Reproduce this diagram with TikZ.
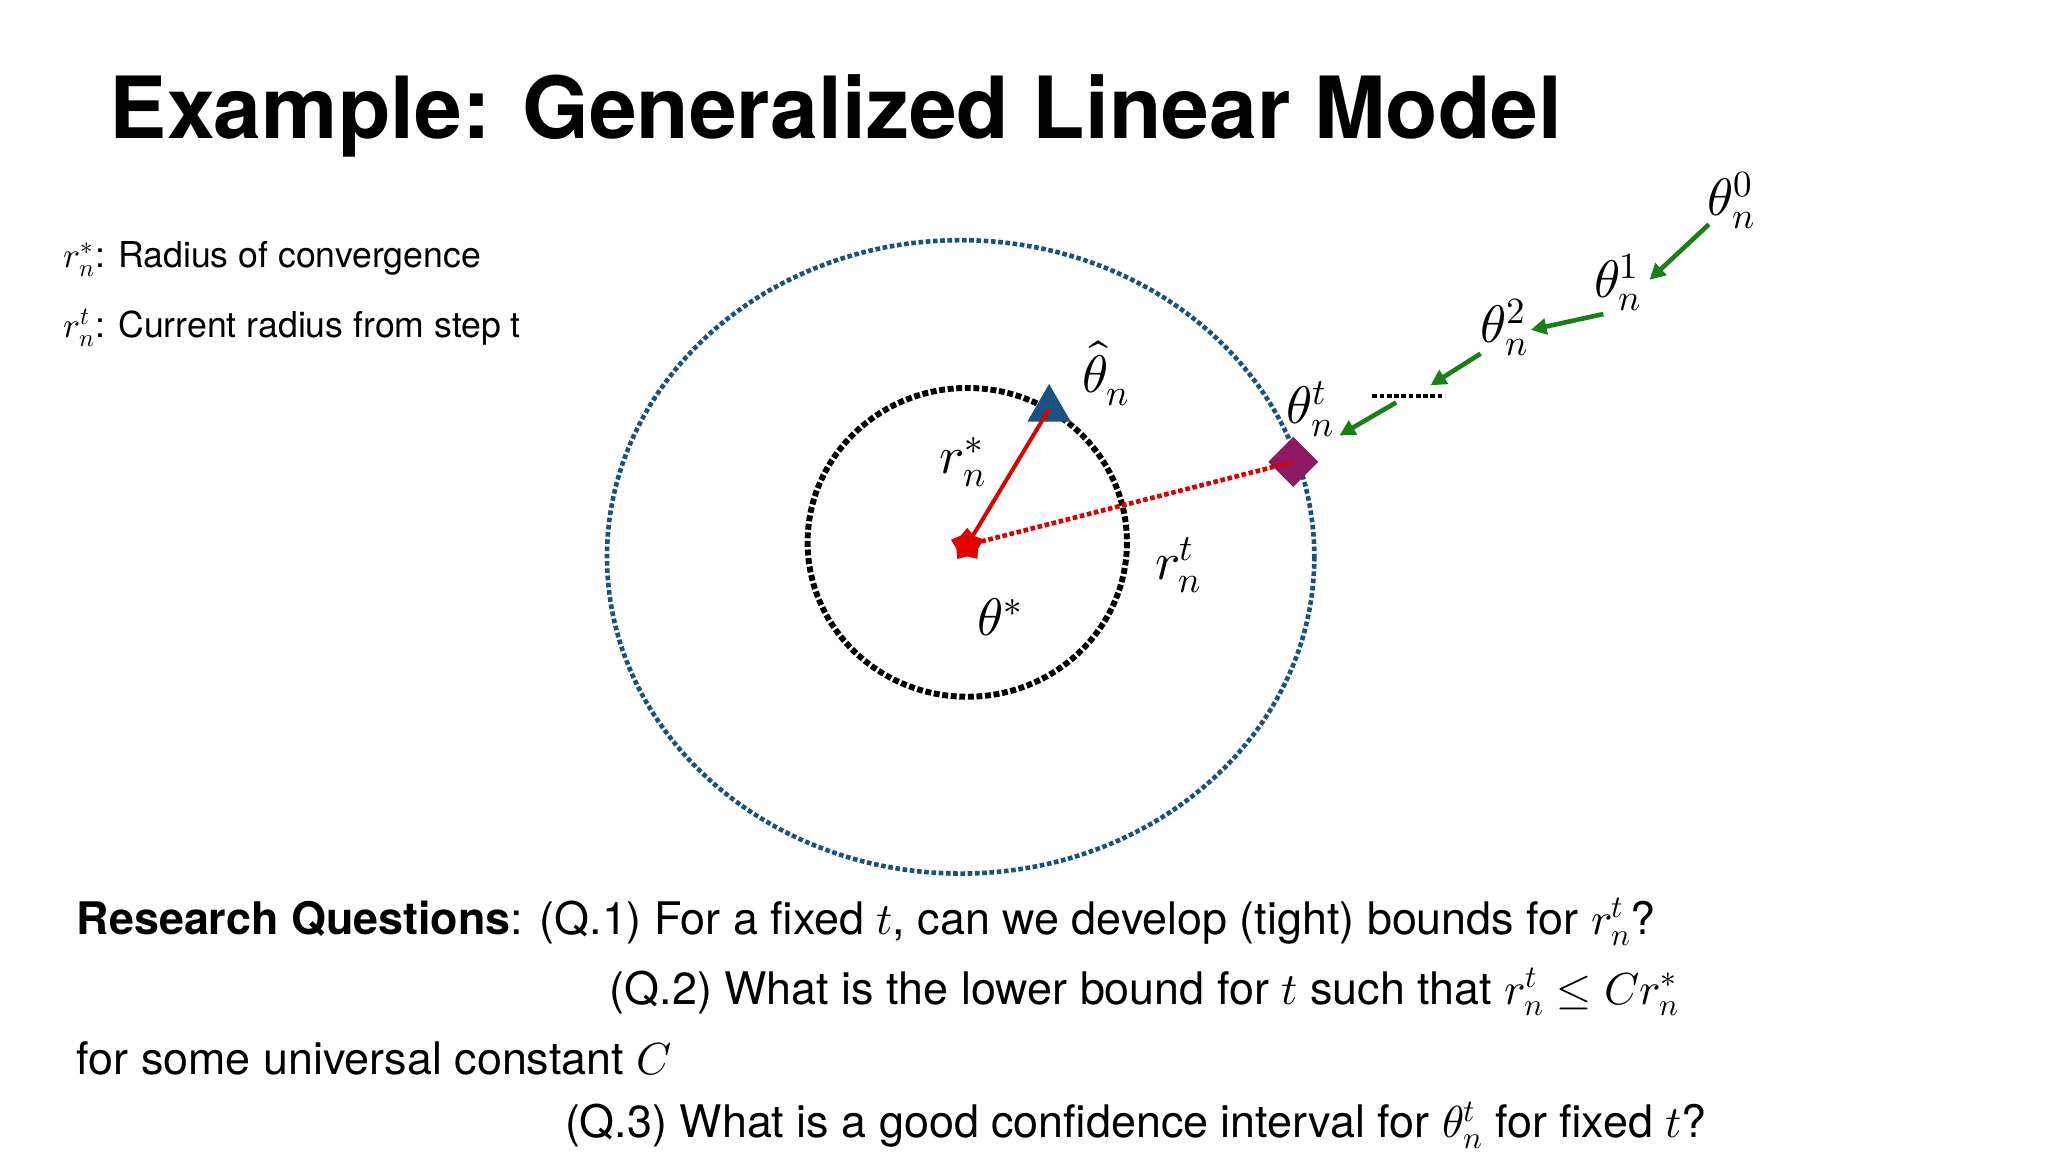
\documentclass[tikz,border=0pt]{standalone}
\usepackage{fontspec}
\usepackage{unicode-math}
\setmainfont{TeX Gyre Heros}
\setmathfont{Latin Modern Math}
\usetikzlibrary{shapes.geometric,arrows.meta}
\definecolor{dblue}{rgb}{0.1,0.32,0.5}
\definecolor{dgreen}{rgb}{0.1,0.5,0.1}
\definecolor{purp}{rgb}{0.55,0.1,0.38}
\begin{document}
\begin{tikzpicture}[x=1pt,y=-1pt,
  lbl/.style={font=\fontsize{40}{42}\selectfont},
  body/.style={font=\fontsize{34}{36}\selectfont,anchor=base west,inner sep=0},
  leg/.style={font=\fontsize{27}{30}\selectfont,anchor=base west,inner sep=0},
  garr/.style={draw=dgreen,line width=3.5pt,-{Triangle[length=12pt,width=12pt]}}]
\useasboundingbox (0,0) rectangle (1552,873);
\node[anchor=base west,inner sep=0,font=\fontsize{65}{70}\selectfont\bfseries] (title) at (83,105) {Example: Generalized Linear Model};
\node[leg] (l1) at (48,203) {$r_n^*$: Radius of convergence};
\node[leg] (l2) at (48,256) {$r_n^t$: Current radius from step t};
\draw[dblue,line width=3.5pt,dotted] (728,422) ellipse [x radius=268,y radius=240];
\draw[black,line width=4.5pt,dotted] (733,411) ellipse [x radius=121,y radius=117];
\coordinate (star) at (733,413);
\node[regular polygon,regular polygon sides=3,fill=dblue,minimum size=38pt,inner sep=0] (tri) at (795,310) {};
\node[diamond,fill=purp,minimum size=38pt,inner sep=0] (dia) at (980,350) {};
\draw[red!85!black,line width=3pt] (star) -- (tri.center);
\draw[red!85!black,line width=3.5pt,dotted] (star) -- (dia.center);
\node[star,star points=5,fill=red!90!black,minimum size=26pt,inner sep=0] (st) at (star) {};
\node[lbl] (th) at (838,283) {$\widehat{\theta}_n$};
\node[lbl] (rs) at (730,350) {$r_n^*$};
\node[lbl] (ts) at (758,468) {$\theta^*$};
\node[lbl] (rt) at (893,428) {$r_n^t$};
\node[lbl] (tt) at (993,310) {$\theta_n^t$};
\node[lbl] (t0) at (1312,152) {$\theta_n^0$};
\node[lbl] (t1) at (1226,214) {$\theta_n^1$};
\node[lbl] (t2) at (1140,248) {$\theta_n^2$};
\coordinate (d1) at (1040,300); \coordinate (d2) at (1095,300);
\draw[line width=3.5pt,dotted] (d1) -- (d2);
\coordinate (a0) at (1295,170); \coordinate (b0) at (1250,212);
\coordinate (a1) at (1215,238); \coordinate (b1) at (1160,250);
\coordinate (a2) at (1122,268); \coordinate (b2) at (1084,292);
\coordinate (a3) at (1058,305); \coordinate (b3) at (1015,330);
\draw[garr] (a0) -- (b0);
\draw[garr] (a1) -- (b1);
\draw[garr] (a2) -- (b2);
\draw[garr] (a3) -- (b3);
\node[body] (q1) at (58,708) {\textbf{Research Questions}: (Q.1) For a fixed $t$, can we develop (tight) bounds for $r_n^t$?};
\node[body] (q2) at (462,761) {(Q.2) What is the lower bound for $t$ such that $r_n^t \le C r_n^*$};
\node[body] (q2b) at (58,814) {for some universal constant $C$};
\node[body] (q3) at (428,862) {(Q.3) What is a good confidence interval for $\theta_n^t$ for fixed $t$?};
\end{tikzpicture}
\end{document}
